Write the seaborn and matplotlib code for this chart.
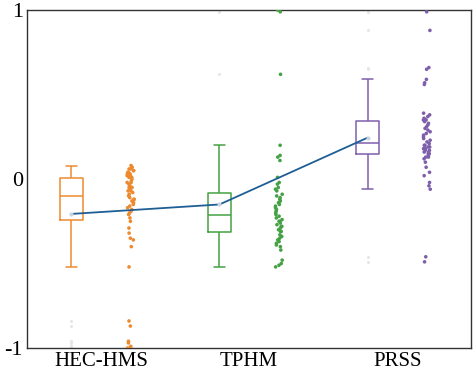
import numpy as np
import pandas as pd
import matplotlib
matplotlib.use('Agg')
import matplotlib.pyplot as plt
import seaborn as sns

# model names and colours
models = ["HEC-HMS", "TPHM", "PRSS"]
colors = ["#EE8A2E", "#44A244", "#7D5FAC"]
line_color = "#1F5E95"

# values
hec_hms = [0.08, 0.07, 0.06, 0.06, 0.05, 0.05, 0.04, 0.04, 0.03, 0.03, 0.02, 0.02, 0.01, 0.01,
           0.0, -0.01, -0.02, -0.02, -0.03, -0.04, -0.05, -0.05, -0.06, -0.07, -0.07, -0.08, -0.09,
           -0.10, -0.11, -0.12, -0.12, -0.13, -0.14, -0.15, -0.16, -0.17, -0.18, -0.19, -0.20, -0.21, -0.23,
           -0.25, -0.29, -0.32, -0.35, -0.36, -0.40, -0.52, -0.84, -0.87, -0.96, -0.97, -0.99, -1.0, -1.0]
tphm = [1.0, 0.99, 0.62, 0.20, 0.14, 0.13, 0.11, 0.01, -0.02, -0.03, -0.05, -0.06, -0.07,
        -0.09, -0.10, -0.11, -0.12, -0.13, -0.14, -0.15, -0.16, -0.17, -0.18, -0.19, -0.20, -0.21,
        -0.22, -0.23, -0.24, -0.25, -0.25, -0.26, -0.27, -0.28, -0.28, -0.29, -0.30, -0.31, -0.31,
        -0.33, -0.34, -0.35, -0.36, -0.37, -0.38, -0.39, -0.40, -0.42, -0.48, -0.50, -0.51, -0.52]
prss = [0.99, 0.88, 0.66, 0.65, 0.59, 0.57, 0.56, 0.39, 0.38, 0.37, 0.36, 0.35, 0.35,
        0.34, 0.33, 0.32, 0.31, 0.30, 0.29, 0.28, 0.27, 0.26, 0.25, 0.24, 0.23, 0.22,
        0.21, 0.20, 0.20, 0.19, 0.19, 0.18, 0.18, 0.17, 0.17, 0.16, 0.16, 0.15, 0.15,
        0.14, 0.13, 0.13, 0.12, 0.10, 0.07, 0.04, 0.02, -0.02, -0.04, -0.06, -0.46, -0.49]
series = [hec_hms, tphm, prss]

rows = []
for i, (name, vals) in enumerate(zip(models, series)):
    for v in vals:
        rows.append({"model": name, "value": v, "box_x": i - 0.2, "strip_x": i + 0.2})
df = pd.DataFrame(rows)

sns.set_style("white")
plt.rcParams["font.family"] = ["Liberation Serif", "DejaVu Serif"]

fig = plt.figure(figsize=(4.74, 3.75), dpi=100)
ax = fig.add_axes([0.057, 0.072, 0.937, 0.901])

# boxes (outliers only as faint dots, as in the original)
sns.boxplot(data=df, x="box_x", y="value", hue="model", palette=colors, native_scale=True,
            width=0.16, fill=False, linewidth=1.1, whis=1.5, legend=False,
            flierprops=dict(marker="o", markersize=1.2, markerfacecolor="#e6e6e6",
                            markeredgecolor="#e6e6e6"), ax=ax)

np.random.seed(3)
sns.stripplot(data=df, x="strip_x", y="value", hue="model", palette=colors, native_scale=True,
              jitter=0.025, size=2.6, linewidth=0, legend=False, ax=ax)

# line joining the means
means = df.groupby("model", sort=False)["value"].mean()
ax.plot(np.arange(len(models)) - 0.2, means.values, color=line_color, lw=1.3,
        marker="o", markersize=2, markerfacecolor="#c8d4e0", markeredgecolor="#c8d4e0", zorder=5)

ax.set_xlim(-0.5, 2.5)
ax.set_ylim(-1, 1)
ax.set_xticks(range(len(models)))
ax.set_xticklabels(models, fontsize=15)
ax.set_yticks([-1, 0, 1])
ax.set_yticklabels(["-1", "0", "1"], fontsize=16)
ax.set_xlabel("")
ax.set_ylabel("")
ax.tick_params(axis="both", direction="in", length=4, width=0.8, colors="#333333",
               labelcolor="black", pad=3)
for s in ax.spines.values():
    s.set_visible(True)
    s.set_color("#333333")
    s.set_linewidth(1.0)

fig.savefig("out.png", dpi=100)
plt.close(fig)
